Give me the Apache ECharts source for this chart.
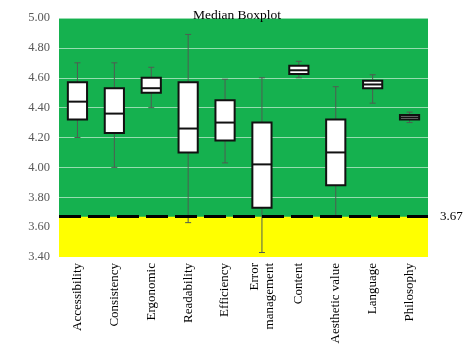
<!DOCTYPE html>
<html><head><meta charset="utf-8">
<script src="https://cdn.jsdelivr.net/npm/echarts@6/dist/echarts.min.js"></script>
<style>html,body{margin:0;padding:0;background:#fff}#c{width:474px;height:357px}</style>
</head><body><div id="c"></div>
<script>
const categories = ['Accessibility','Consistency','Ergonomic','Readability','Efficiency','Error\nmanagement','Content','Aesthetic value','Language','Philosophy'];
const minVals    = [4.20, 4.00, 4.40, 3.63, 4.03, 3.43, 4.60, 3.67, 4.43, 4.30];
const q1Vals     = [4.32, 4.23, 4.50, 4.10, 4.18, 3.73, 4.625, 3.88, 4.53, 4.32];
const medianVals = [4.44, 4.36, 4.53, 4.26, 4.30, 4.02, 4.65, 4.10, 4.555, 4.335];
const q3Vals     = [4.57, 4.53, 4.60, 4.57, 4.45, 4.30, 4.68, 4.32, 4.58, 4.35];
const maxVals    = [4.70, 4.70, 4.67, 4.89, 4.59, 4.60, 4.71, 4.54, 4.62, 4.37];
const yTicks = [3.40, 3.60, 3.80, 4.00, 4.20, 4.40, 4.60, 4.80, 5.00];
const threshold = 3.67;

const boxData = categories.map((c, i) => [i, minVals[i], q1Vals[i], medianVals[i], q3Vals[i], maxVals[i]]);
const serif = '"Liberation Serif", "Times New Roman", serif';

const chart = echarts.init(document.getElementById('c'));
chart.setOption({
  animation: false,
  title: { text: 'Median Boxplot', left: 'center', top: 3,
    textStyle: { fontFamily: serif, fontSize: 13.5, fontWeight: 'normal', color: '#000' } },
  grid: { left: 59, right: 46, top: 18, bottom: 100, show: true, backgroundColor: '#15b14f', borderWidth: 0 },
  xAxis: { type: 'category', data: categories,
    axisLine: { show: false }, axisTick: { show: false },
    axisLabel: { rotate: 90, interval: 0, fontFamily: serif, fontSize: 13, color: '#000', margin: 6, lineHeight: 15 } },
  yAxis: { type: 'value', min: yTicks[0], max: yTicks[yTicks.length - 1], interval: 0.2,
    axisLine: { show: false }, axisTick: { show: false },
    splitLine: { lineStyle: { color: 'rgba(255,255,255,0.55)', width: 1 } },
    axisLabel: { fontFamily: serif, fontSize: 12.5, color: '#595959', margin: 9,
      formatter: v => v.toFixed(2) } },
  series: [
    { type: 'line', data: [], silent: true, z: 1,
      markArea: { silent: true, itemStyle: { color: '#ffff00' },
        data: [[{ yAxis: yTicks[0] }, { yAxis: threshold }]] },
      markLine: { silent: true, symbol: ['none', 'none'],
        lineStyle: { color: '#000', width: 3, type: [22, 7] },
        label: { show: true, position: 'end', formatter: threshold.toFixed(2), fontFamily: serif, fontSize: 13, color: '#000', distance: 12, padding: [7, 0, 0, 0] },
        data: [{ yAxis: threshold }] } },
    { type: 'custom', z: 3, data: boxData,
      encode: { x: 0, y: [1, 2, 3, 4, 5] },
      renderItem: function (params, api) {
        const i = api.value(0);
        const w = api.size([1, 0])[0] * 0.52;
        const pMin = api.coord([i, api.value(1)]);
        const pQ1 = api.coord([i, api.value(2)]);
        const pMed = api.coord([i, api.value(3)]);
        const pQ3 = api.coord([i, api.value(4)]);
        const pMax = api.coord([i, api.value(5)]);
        const x = pMin[0];
        const wStyle = { stroke: '#4f5d52', lineWidth: 1 };
        const bStyle = { stroke: '#111', lineWidth: 2 };
        return { type: 'group', children: [
          { type: 'line', shape: { x1: x, y1: pMin[1], x2: x, y2: pMax[1] }, style: wStyle },
          { type: 'line', shape: { x1: x - 3, y1: pMin[1], x2: x + 3, y2: pMin[1] }, style: wStyle },
          { type: 'line', shape: { x1: x - 3, y1: pMax[1], x2: x + 3, y2: pMax[1] }, style: wStyle },
          { type: 'rect', shape: { x: x - w / 2, y: pQ3[1], width: w, height: pQ1[1] - pQ3[1] },
            style: { fill: '#fff', stroke: '#111', lineWidth: 2 } },
          { type: 'line', shape: { x1: x - w / 2, y1: pMed[1], x2: x + w / 2, y2: pMed[1] }, style: bStyle }
        ] };
      } }
  ]
});
</script></body></html>
